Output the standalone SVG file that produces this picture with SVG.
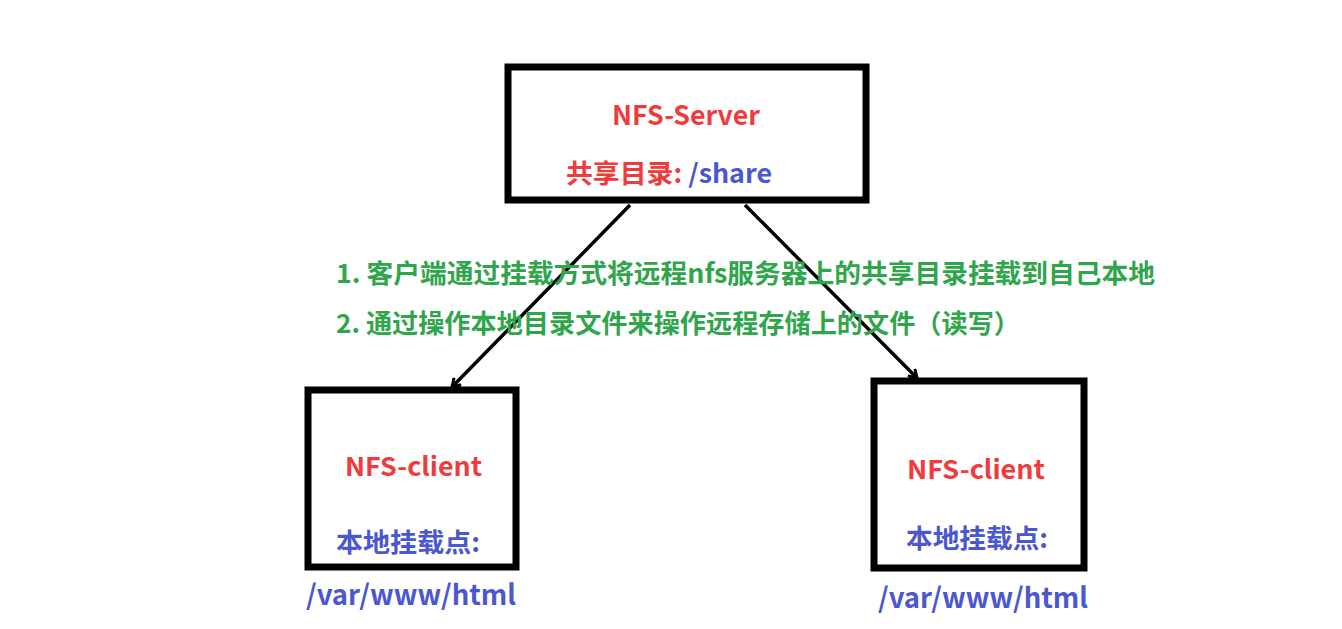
<svg xmlns="http://www.w3.org/2000/svg" width="1342" height="629" viewBox="0 0 1342 629">
<style>
.box{fill:#fff;stroke:#000;stroke-width:7}
.t{font-family:"Noto Sans CJK SC","Noto Sans",sans-serif;font-weight:bold}
.red{fill:#ef3b3b}
.blue{fill:#4b57cf}
.green{fill:#2fa54c}
.conn{stroke:#000;stroke-width:3.5;fill:none}
</style>
<defs>
<marker id="arr" markerWidth="12" markerHeight="12" refX="9" refY="6" orient="auto" markerUnits="userSpaceOnUse">
<path d="M1,1 L9,6 L1,11" fill="none" stroke="#000" stroke-width="3"/>
</marker>
</defs>
<rect width="1342" height="629" fill="#fff"/>
<g id="connectors">
<line class="conn" x1="630" y1="205" x2="452" y2="387" marker-end="url(#arr)"/>
<line class="conn" x1="745" y1="205" x2="917" y2="378" marker-end="url(#arr)"/>
</g>
<g id="server">
<rect class="box" x="508" y="67" width="358" height="133"/>
<text class="t red" x="612" y="125" font-size="27" textLength="148" lengthAdjust="spacingAndGlyphs">NFS-Server</text>
<text class="t" x="566" y="183" font-size="26" textLength="206" lengthAdjust="spacingAndGlyphs"><tspan class="red">共享目录: </tspan><tspan class="blue">/share</tspan></text>
</g>
<g id="notes">
<text class="t green" x="336" y="283" font-size="26" textLength="819" lengthAdjust="spacingAndGlyphs">1. 客户端通过挂载方式将远程nfs服务器上的共享目录挂载到自己本地</text>
<text class="t green" x="336" y="333" font-size="26" textLength="684" lengthAdjust="spacingAndGlyphs">2. 通过操作本地目录文件来操作远程存储上的文件（读写）</text>
</g>
<g id="client1">
<rect class="box" x="308" y="390" width="208" height="177"/>
<text class="t red" x="345" y="476" font-size="26" textLength="137" lengthAdjust="spacingAndGlyphs">NFS-client</text>
<text class="t blue" x="336" y="552" font-size="26" textLength="144" lengthAdjust="spacingAndGlyphs">本地挂载点:</text>
<text class="t blue" x="306" y="605" font-size="28" textLength="210" lengthAdjust="spacingAndGlyphs">/var/www/html</text>
</g>
<g id="client2">
<rect class="box" x="874" y="381" width="210" height="187"/>
<text class="t red" x="907" y="479" font-size="26" textLength="138" lengthAdjust="spacingAndGlyphs">NFS-client</text>
<text class="t blue" x="906" y="548" font-size="26" textLength="142" lengthAdjust="spacingAndGlyphs">本地挂载点:</text>
<text class="t blue" x="878" y="608" font-size="28" textLength="210" lengthAdjust="spacingAndGlyphs">/var/www/html</text>
</g>
</svg>
